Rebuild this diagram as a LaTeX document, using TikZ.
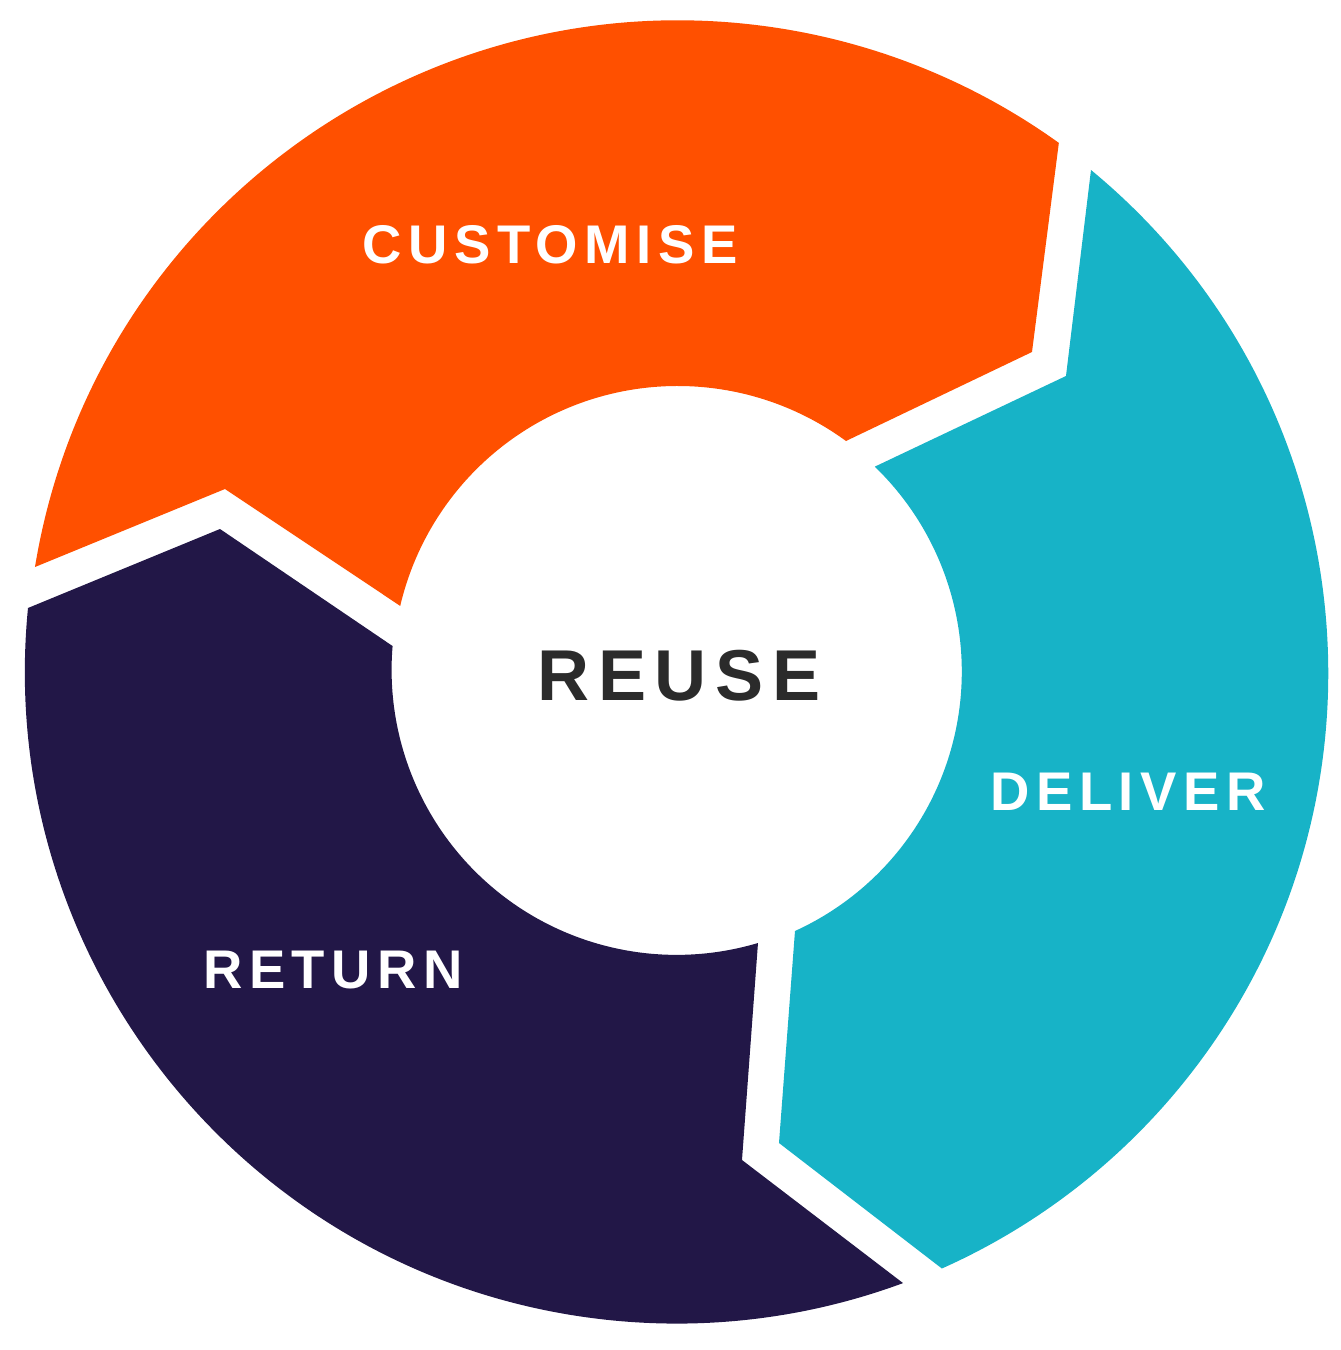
\documentclass[tikz,border=0pt]{standalone}
\usepackage{fontspec}
\setmainfont{Liberation Sans}
\newfontfamily\spaced[LetterSpace=12]{Liberation Sans}
\definecolor{org}{HTML}{FF5000}
\definecolor{teal2}{HTML}{17B3C7}
\definecolor{navy}{HTML}{221747}
\definecolor{dark}{HTML}{2B2B2B}
\begin{document}
\begin{tikzpicture}[x=0.02cm,y=0.02cm,
 lbl/.style={text=white,font=\spaced\bfseries\fontsize{31}{31}\selectfont,inner sep=0}]
\useasboundingbox (-677,672) rectangle (664,-678);
\fill[org] (-642,105) arc[start angle=170.7,end angle=54.3,radius=652] -- (355,320) -- (169,231) arc[start angle=53.8,end angle=166.8,radius=285] -- (-452,183) -- cycle;
\fill[teal2] (414,502) arc[start angle=50.5,end angle=-65.96,radius=652] -- (102,-471) -- (118,-259) arc[start angle=-65.5,end angle=46,radius=285] -- (389,296) -- cycle;
\fill[navy] (-649,64) arc[start angle=174.4,end angle=290.3,radius=652] -- (65,-488) -- (81,-271) arc[start angle=286.6,end angle=175.2,radius=285] -- (-457,143) -- cycle;
\node[lbl] (cust) at (550-677,672-245) {CUSTOMISE};
\node[lbl] (deliv) at (1128-677,672-792) {DELIVER};
\node[lbl] (ret) at (333-677,672-970) {RETURN};
\node[lbl,text=dark,font=\spaced\bfseries\fontsize{41}{41}\selectfont] (reuse) at (2,-4) {REUSE};
\end{tikzpicture}
\end{document}
